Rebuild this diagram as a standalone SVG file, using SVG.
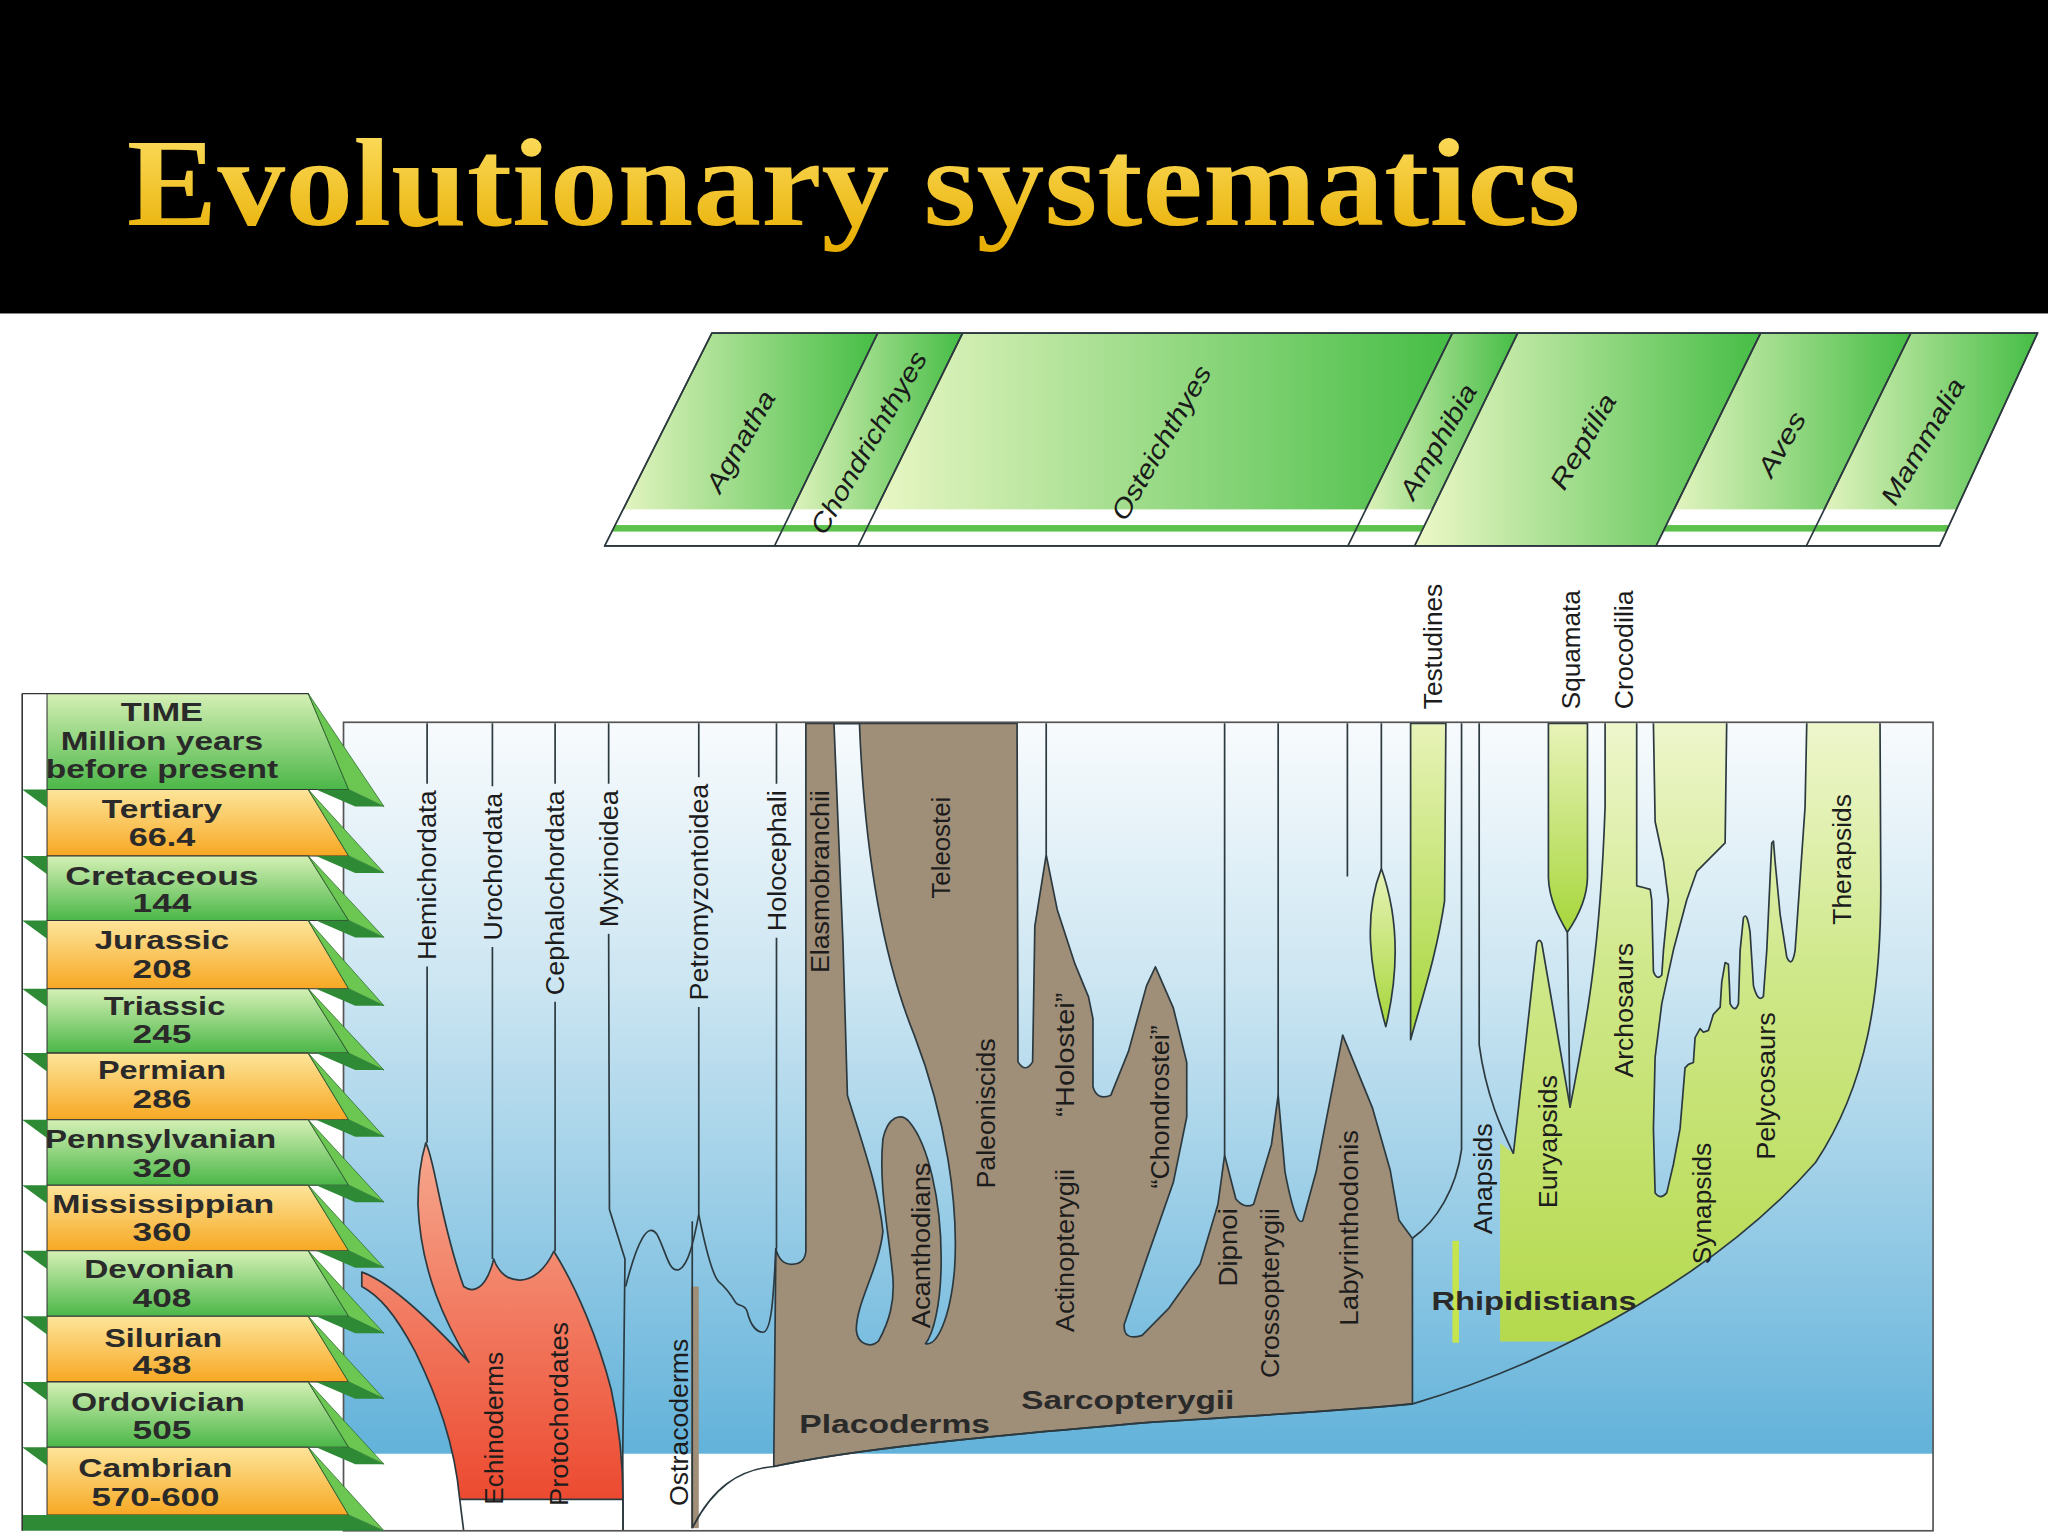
<svg xmlns="http://www.w3.org/2000/svg" width="2048" height="1536" viewBox="0 0 2048 1536">
<style>
.ln{fill:none;stroke:#2c3a40;stroke-width:1.3;stroke-linejoin:round}
.ed{stroke:#2c3a40;stroke-width:1.3;stroke-linejoin:round}
.lb{font-family:"Liberation Sans Narrow","Liberation Sans",Arial,sans-serif;font-size:20px;fill:#1c1c1c}
.hz{font-family:"Liberation Sans",Arial,sans-serif;font-size:20px;font-weight:bold;fill:#2a2a2a}
.tb{font-family:"Liberation Sans",Arial,sans-serif;font-size:20px;font-weight:bold;fill:#2a2a2a;text-anchor:middle}
.pl{font-family:"Liberation Sans",Arial,sans-serif;font-size:20px;font-style:italic;fill:#1a1a1a;text-anchor:middle;dominant-baseline:central}
.fo{fill:url(#gOr);stroke:#333;stroke-width:0.8}
.fg{fill:url(#gGr);stroke:#333;stroke-width:0.8}
.sd{fill:#6cc752;stroke:#2d6e2d;stroke-width:0.6}
.dk{fill:#2f8a36}
.pn{fill:url(#gPan);stroke:#333;stroke-width:1.1}
</style>
<defs>
<linearGradient id="gBlue" gradientUnits="userSpaceOnUse" x1="0" y1="553" x2="0" y2="1113"><stop offset="0" stop-color="#f8fbfd"/><stop offset="0.35" stop-color="#cde6f2"/><stop offset="1" stop-color="#62b2da"/></linearGradient>
<linearGradient id="gRed" gradientUnits="userSpaceOnUse" x1="0" y1="875" x2="0" y2="1148"><stop offset="0" stop-color="#f6a88e"/><stop offset="1" stop-color="#ec4a30"/></linearGradient>
<linearGradient id="gLime" gradientUnits="userSpaceOnUse" x1="0" y1="553" x2="0" y2="1030"><stop offset="0" stop-color="#eef6cc"/><stop offset="0.4" stop-color="#cfe88a"/><stop offset="1" stop-color="#b4d94c"/></linearGradient>
<linearGradient id="gLime2" x1="0" y1="0" x2="0" y2="1"><stop offset="0" stop-color="#e8f3b8"/><stop offset="1" stop-color="#a6d63a"/></linearGradient>
<linearGradient id="gOr" x1="0" y1="0" x2="0" y2="1"><stop offset="0" stop-color="#fde59a"/><stop offset="1" stop-color="#f7a823"/></linearGradient>
<linearGradient id="gGr" x1="0" y1="0" x2="0" y2="1"><stop offset="0" stop-color="#d5f0b5"/><stop offset="1" stop-color="#4bb748"/></linearGradient>
<linearGradient id="gPan" x1="0" y1="0" x2="1" y2="0"><stop offset="0" stop-color="#eef8c8"/><stop offset="1" stop-color="#45bd45"/></linearGradient>
<linearGradient id="gGold" x1="0" y1="0" x2="0" y2="1"><stop offset="0" stop-color="#ffe36a"/><stop offset="1" stop-color="#e7ad00"/></linearGradient>
<clipPath id="cStrip"><polygon points="545,255 1162,255 1083,418 463,418"/><polygon points="1348,255 1560,255 1485,418 1268,418"/></clipPath>
<clipPath id="cGreen"><rect x="1080" y="540" width="420" height="487"/></clipPath>
<clipPath id="cGreenS"><rect x="1150" y="540" width="350" height="478"/></clipPath>
</defs>
<rect width="2048" height="1536" fill="#ffffff"/>
<g transform="scale(1.30612)">
<g id="title">
<rect x="0" y="0" width="1568" height="240" fill="#000"/>
<text x="97" y="172" font-family="Liberation Serif,serif" font-weight="bold" font-size="96" fill="url(#gGold)" textLength="1113" lengthAdjust="spacingAndGlyphs">Evolutionary systematics</text>
</g>
<g id="classes">
<polygon class="pn" points="545,255 672,255 593,418 463,418"/>
<polygon class="pn" points="672,255 737,255 657,418 593,418"/>
<polygon class="pn" points="737,255 1112,255 1032,418 657,418"/>
<polygon class="pn" points="1112,255 1162,255 1083,418 1032,418"/>
<polygon class="pn" points="1162,255 1348,255 1268,418 1083,418"/>
<polygon class="pn" points="1348,255 1463,255 1383,418 1268,418"/>
<polygon class="pn" points="1463,255 1560,255 1485,418 1383,418"/>
<g clip-path="url(#cStrip)">
<rect x="450" y="390" width="1120" height="28" fill="#fff"/>
<rect x="450" y="402" width="1120" height="5" fill="#5cc24c"/>
</g>
<path class="ln" d="M545,255 L1560,255 L1485,418 L463,418 Z M672,255 L593,418 M737,255 L657,418 M1112,255 L1032,418 M1162,255 L1083,418 M1348,255 L1268,418 M1463,255 L1383,418"/>
<text class="pl" transform="translate(567,338) rotate(-60)" textLength="86" lengthAdjust="spacingAndGlyphs">Agnatha</text>
<text class="pl" transform="translate(665,339) rotate(-60)" textLength="158" lengthAdjust="spacingAndGlyphs">Chondrichthyes</text>
<text class="pl" transform="translate(889,339) rotate(-60)" textLength="133" lengthAdjust="spacingAndGlyphs">Osteichthyes</text>
<text class="pl" transform="translate(1101,338) rotate(-60)" textLength="98" lengthAdjust="spacingAndGlyphs">Amphibia</text>
<text class="pl" transform="translate(1212,338) rotate(-60)" textLength="81" lengthAdjust="spacingAndGlyphs">Reptilia</text>
<text class="pl" transform="translate(1364,340) rotate(-60)" textLength="54" lengthAdjust="spacingAndGlyphs">Aves</text>
<text class="pl" transform="translate(1472,338) rotate(-60)" textLength="108" lengthAdjust="spacingAndGlyphs">Mammalia</text>
</g>
<g id="chart">
<rect x="263" y="553" width="1217" height="619" fill="#fff"/>
<rect x="263" y="553" width="1217" height="560" fill="url(#gBlue)"/>
<g id="echinoderms">
<path class="ed" fill="url(#gRed)" d="M277,974 C297,981 325,1006 359,1043 C342,1014 322,975 320,922 C320,900 323,885 326,875 C333,888 337,935 355,985 C362,990 372,988 378,964 C385,985 410,988 424,958 C441,985 458,1025 468,1064 C475,1096 477,1125 477,1148 L352,1148 C348,1105 335,1070 318,1035 C302,1005 290,992 277,985 Z"/>
<path class="ln" d="M352,1148 L355,1172 M477,1148 L477,1172"/>
</g>
<g id="fishes">
<path class="ed" fill="#9f8e78" d="M592.4,1122.8 L594,956 Q597,968 606,968 Q616,968 617,958 L617,553.8 L778.7,553.8 L779.4,813 Q785,822 790.6,813 L792.3,709 L801,654.5 L809.4,696.3 L823,738 L833.4,763.2 L836.8,780 L836.8,832 Q840,843 850.5,838.5 L864,805 L877.8,754.8 L884.6,740.2 L898.3,771.6 L908.6,813.4 L908.6,855.2 L898.3,905.4 L877.8,964 L860.7,1014 Q860,1027 874.4,1022.4 L895,1001.5 L918.8,968 L932.5,922 L937.6,884.4 L946.2,918 Q953,926 959.8,922 L973.5,876 L978.6,838.5 L983.8,897 Q992,940 997.4,934.6 L1007.7,897 L1028,792.5 L1050.7,848 L1064.4,896 L1071,934 L1081.4,948.3 L1081.4,1074.6 C1030,1080 960,1084 880,1089 C750,1100 650,1110 592.4,1122.8 Z"/>
<path class="ed" fill="url(#gBlue)" d="M638.5,554 L645.4,721.4 L648.8,838.5 C659,872 672.7,909.5 676,943 C672.7,972 655.6,997 655.6,1018.2 C656.3,1028.7 665.9,1032.9 672.7,1026.6 C679.6,1014 686.4,997 683,972 C679.6,938.8 672.7,905.4 676,872 C679.6,855.2 689.8,851 696.6,859.4 C710.3,876 720.6,918 720.6,964 C720.6,1001.5 713.7,1022.4 708.6,1028.7 C717.2,1030.8 727.4,1010 730.8,972 C734.2,922 724,855 700,792.5 C679.6,742.3 662.5,667 658,554 Z"/>
<rect x="529" y="985" width="6" height="185" fill="#9f8e78"/>
</g>
<g id="reptiles">
<path fill="url(#gLime)" clip-path="url(#cGreen)" d="M1148.5,1075 L1148.5,875 L1158.7,883.2 L1176.6,722 Q1178.5,718 1180.4,722 L1202.1,847.7 C1214.9,782 1225.1,727.4 1228.9,618 L1228.9,553.8 L1253.1,553.8 L1253.1,678.2 L1258.3,679.5 L1263.4,680.9 L1264.6,689.1 L1265.9,743.8 Q1268.5,751 1272.3,746.5 L1273.6,727.4 L1277.4,689.1 L1273.6,659 L1267.2,629 L1265.9,553.8 L1322,553.8 L1320.8,645.4 L1299.1,667.2 L1291.4,689.1 L1281.2,727.4 L1272.3,768.4 L1267.2,809.4 L1265.9,864.1 L1267.2,913.3 Q1271,919 1276.1,913.3 L1281.2,891.4 L1286.3,864.1 L1290.1,817.6 L1292.7,814.9 L1296.5,813.5 L1297.8,794.4 L1301.6,787.5 L1304.2,790.3 L1308,788.9 L1309.3,784.8 L1311.8,776.6 L1317,771.1 L1318.2,752 L1320.8,737 L1323.3,738.3 L1324.1,754.7 L1324.6,768.4 Q1328.4,776 1331,768.4 L1332.3,727.4 L1334.8,702.8 Q1337.4,697 1339.9,713.7 L1342.5,754.7 Q1346,768 1350.1,762.9 L1352.7,727.4 L1355.2,672.7 L1356.5,645.4 L1357.8,644 L1359,659 L1362.9,700 L1368,732.8 Q1372,742 1374.4,727.4 L1378.2,672.7 L1382,618 L1383.3,553.8 L1439.4,553.8 L1440,680 C1440,760 1430,830 1390,890 C1320,970 1200,1040 1081,1075 Z"/>
<path class="ln" clip-path="url(#cGreenS)" d="M1158.7,883.2 L1176.6,722 Q1178.5,718 1180.4,722 L1202.1,847.7 C1214.9,782 1225.1,727.4 1228.9,618 L1228.9,553.8 M1253.1,553.8 L1253.1,678.2 L1258.3,679.5 L1263.4,680.9 L1264.6,689.1 L1265.9,743.8 Q1268.5,751 1272.3,746.5 L1273.6,727.4 L1277.4,689.1 L1273.6,659 L1267.2,629 L1265.9,553.8 M1322,553.8 L1320.8,645.4 L1299.1,667.2 L1291.4,689.1 L1281.2,727.4 L1272.3,768.4 L1267.2,809.4 L1265.9,864.1 L1267.2,913.3 Q1271,919 1276.1,913.3 L1281.2,891.4 L1286.3,864.1 L1290.1,817.6 L1292.7,814.9 L1296.5,813.5 L1297.8,794.4 L1301.6,787.5 L1304.2,790.3 L1308,788.9 L1309.3,784.8 L1311.8,776.6 L1317,771.1 L1318.2,752 L1320.8,737 L1323.3,738.3 L1324.1,754.7 L1324.6,768.4 Q1328.4,776 1331,768.4 L1332.3,727.4 L1334.8,702.8 Q1337.4,697 1339.9,713.7 L1342.5,754.7 Q1346,768 1350.1,762.9 L1352.7,727.4 L1355.2,672.7 L1356.5,645.4 L1357.8,644 L1359,659 L1362.9,700 L1368,732.8 Q1372,742 1374.4,727.4 L1378.2,672.7 L1382,618 L1383.3,553.8"/>
<path class="ed" fill="url(#gLime2)" d="M1185.5,553.8 L1185.5,672 C1186,690 1195,705 1200,713.7 C1206,705 1215,690 1215.4,672 L1215.4,553.8 Z"/>
<path class="ed" fill="url(#gLime2)" d="M1080,553.8 L1107,553.8 L1106,690 C1100,730 1090,760 1080,796 Z"/>
<path class="ed" fill="url(#gLime2)" d="M1057.6,665 C1044,700 1048,740 1061,786 C1072,740 1070,700 1057.6,665 Z"/>
<rect x="1112" y="950" width="5" height="78" fill="#c6e44e"/>
</g>
<g id="connectors">
<path class="ln" d="M327,553.8 L327,600 M327,740 L327,875"/>
<path class="ln" d="M377,553.8 L377,602 M377,725 L377,964"/>
<path class="ln" d="M425,553.8 L425,600 M425,767 L425,958"/>
<path class="ln" d="M466,553.8 L466,600 M466,715 L466.6,926 L478.5,964 L476.8,1114 L477,1172"/>
<path class="ln" d="M479,985 C488,950 496,935 503,945 C510,958 512,975 520,972 C528,968 532,945 535,930"/>
<path class="ln" d="M535,553.8 L535,595 M535,771 L535,930 C540,955 545,975 550,981 C556,986 559,990 563,997 C566,1001 570,998 572,1004 C575,1016 580,1020 584,1020 C590,1020 592,1000 594,956"/>
<path class="ln" d="M530,935 L530,1170"/>
<path class="ln" d="M594.5,553.8 L594.5,600 M594.5,718 L594.5,956"/>
<path class="ln" d="M801,553.8 L801,654.5 M937.6,553.8 L937.6,884.4 M978.6,553.8 L978.6,838.5 M1031.6,553.8 L1031.6,671 M1057.6,553.8 L1057.6,665"/>
<path class="ln" d="M1119,553.8 L1119,880 C1115,910 1100,935 1081.4,948"/>
<path class="ln" d="M1132.5,553.8 L1132.5,800 C1138,840 1150,865 1158.7,883.2"/>
<path class="ln" d="M1200,713.7 L1202,848"/>
<path class="ln" d="M530,1170 C545,1140 565,1125 592.4,1122.8 C650,1110 750,1100 880,1089 C960,1084 1030,1080 1081,1075 C1200,1040 1320,970 1390,890 C1430,830 1440,760 1440,680 L1439.4,553.8"/>
</g>
<g id="labels">
<text class="lb" text-anchor="middle" transform="translate(334,670) rotate(-90)" textLength="130" lengthAdjust="spacingAndGlyphs">Hemichordata</text>
<text class="lb" text-anchor="middle" transform="translate(384,663.5) rotate(-90)" textLength="113" lengthAdjust="spacingAndGlyphs">Urochordata</text>
<text class="lb" text-anchor="middle" transform="translate(432,683.5) rotate(-90)" textLength="157" lengthAdjust="spacingAndGlyphs">Cephalochordata</text>
<text class="lb" text-anchor="middle" transform="translate(473,657.5) rotate(-90)" textLength="105" lengthAdjust="spacingAndGlyphs">Myxinoidea</text>
<text class="lb" text-anchor="middle" transform="translate(542,683) rotate(-90)" textLength="166" lengthAdjust="spacingAndGlyphs">Petromyzontoidea</text>
<text class="lb" text-anchor="middle" transform="translate(602,659) rotate(-90)" textLength="108" lengthAdjust="spacingAndGlyphs">Holocephali</text>
<text class="lb" text-anchor="middle" transform="translate(635,675) rotate(-90)" textLength="140" lengthAdjust="spacingAndGlyphs">Elasmobranchii</text>
<text class="lb" text-anchor="middle" transform="translate(727,649) rotate(-90)" textLength="78" lengthAdjust="spacingAndGlyphs">Teleostei</text>
<text class="lb" text-anchor="middle" transform="translate(762,852.5) rotate(-90)" textLength="115" lengthAdjust="spacingAndGlyphs">Paleoniscids</text>
<text class="lb" text-anchor="middle" transform="translate(822,807.5) rotate(-90)" textLength="95" lengthAdjust="spacingAndGlyphs">“Holostei”</text>
<text class="lb" text-anchor="middle" transform="translate(822,957.5) rotate(-90)" textLength="125" lengthAdjust="spacingAndGlyphs">Actinopterygii</text>
<text class="lb" text-anchor="middle" transform="translate(895,847.5) rotate(-90)" textLength="125" lengthAdjust="spacingAndGlyphs">“Chondrostei”</text>
<text class="lb" text-anchor="middle" transform="translate(712,953.5) rotate(-90)" textLength="127" lengthAdjust="spacingAndGlyphs">Acanthodians</text>
<text class="lb" text-anchor="middle" transform="translate(947,955) rotate(-90)" textLength="60" lengthAdjust="spacingAndGlyphs">Dipnoi</text>
<text class="lb" text-anchor="middle" transform="translate(979,990) rotate(-90)" textLength="130" lengthAdjust="spacingAndGlyphs">Crossopterygii</text>
<text class="lb" text-anchor="middle" transform="translate(1040,940) rotate(-90)" textLength="150" lengthAdjust="spacingAndGlyphs">Labyrinthodonis</text>
<text class="lb" text-anchor="middle" transform="translate(385,1093.5) rotate(-90)" textLength="117" lengthAdjust="spacingAndGlyphs">Echinoderms</text>
<text class="lb" text-anchor="middle" transform="translate(435,1082.5) rotate(-90)" textLength="141" lengthAdjust="spacingAndGlyphs">Protochordates</text>
<text class="lb" text-anchor="middle" transform="translate(527,1089) rotate(-90)" textLength="128" lengthAdjust="spacingAndGlyphs">Ostracoderms</text>
<text class="lb" text-anchor="middle" transform="translate(1104,495) rotate(-90)" textLength="96" lengthAdjust="spacingAndGlyphs">Testudines</text>
<text class="lb" text-anchor="middle" transform="translate(1210,497.5) rotate(-90)" textLength="91" lengthAdjust="spacingAndGlyphs">Squamata</text>
<text class="lb" text-anchor="middle" transform="translate(1250,497.5) rotate(-90)" textLength="91" lengthAdjust="spacingAndGlyphs">Crocodilia</text>
<text class="lb" text-anchor="middle" transform="translate(1142,902.5) rotate(-90)" textLength="85" lengthAdjust="spacingAndGlyphs">Anapsids</text>
<text class="lb" text-anchor="middle" transform="translate(1192,874) rotate(-90)" textLength="102" lengthAdjust="spacingAndGlyphs">Euryapsids</text>
<text class="lb" text-anchor="middle" transform="translate(1250,773.5) rotate(-90)" textLength="103" lengthAdjust="spacingAndGlyphs">Archosaurs</text>
<text class="lb" text-anchor="middle" transform="translate(1310,921.5) rotate(-90)" textLength="93" lengthAdjust="spacingAndGlyphs">Synapsids</text>
<text class="lb" text-anchor="middle" transform="translate(1359,831.5) rotate(-90)" textLength="113" lengthAdjust="spacingAndGlyphs">Pelycosaurs</text>
<text class="lb" text-anchor="middle" transform="translate(1417,658) rotate(-90)" textLength="100" lengthAdjust="spacingAndGlyphs">Therapsids</text>
<text class="hz" x="612" y="1097" textLength="146" lengthAdjust="spacingAndGlyphs">Placoderms</text>
<text class="hz" x="782" y="1079" textLength="163" lengthAdjust="spacingAndGlyphs">Sarcopterygii</text>
<text class="hz" x="1096" y="1003" textLength="157" lengthAdjust="spacingAndGlyphs">Rhipidistians</text>
</g>
<rect x="263" y="553" width="1217" height="619" fill="none" stroke="#555" stroke-width="1.3"/>
</g>
<g id="timescale">
<rect x="17" y="531" width="19" height="641" fill="#fff"/>
<g id="t-header"><polygon class="fg" points="36,531 236,531 267,604.5 36,604.5"/><polygon class="sd" points="236,531 294,617.5 267,604.5"/><polygon class="dk" points="242,604.5 267,604.5 294,617.5 272,617.5"/><text class="tb" x="124" y="552" textLength="63" lengthAdjust="spacingAndGlyphs">TIME</text><text class="tb" x="124" y="574" textLength="155" lengthAdjust="spacingAndGlyphs">Million years</text><text class="tb" x="124" y="596" textLength="178" lengthAdjust="spacingAndGlyphs">before present</text></g>
<g id="t-tertiary"><polygon class="fo" points="36,604.5 236,604.5 267,655.3 36,655.3"/><polygon class="sd" points="236,604.5 294,668.3 267,655.3"/><polygon class="dk" points="242,655.3 267,655.3 294,668.3 272,668.3"/><polygon class="dk" points="17,604.5 36,604.5 36,618.5"/><text class="tb" x="124" y="626.5" textLength="92" lengthAdjust="spacingAndGlyphs">Tertiary</text><text class="tb" x="124" y="648" textLength="51" lengthAdjust="spacingAndGlyphs">66.4</text></g>
<g id="t-cretaceous"><polygon class="fg" points="36,655.3 236,655.3 267,704.7 36,704.7"/><polygon class="sd" points="236,655.3 294,717.7 267,704.7"/><polygon class="dk" points="242,704.7 267,704.7 294,717.7 272,717.7"/><polygon class="dk" points="17,655.3 36,655.3 36,669.3"/><text class="tb" x="124" y="677.3" textLength="148" lengthAdjust="spacingAndGlyphs">Cretaceous</text><text class="tb" x="124" y="698.5" textLength="45" lengthAdjust="spacingAndGlyphs">144</text></g>
<g id="t-jurassic"><polygon class="fo" points="36,704.7 236,704.7 267,757 36,757"/><polygon class="sd" points="236,704.7 294,770 267,757"/><polygon class="dk" points="242,757 267,757 294,770 272,770"/><polygon class="dk" points="17,704.7 36,704.7 36,718.7"/><text class="tb" x="124" y="726.7" textLength="103" lengthAdjust="spacingAndGlyphs">Jurassic</text><text class="tb" x="124" y="748.5" textLength="45" lengthAdjust="spacingAndGlyphs">208</text></g>
<g id="t-triassic"><polygon class="fg" points="36,757 236,757 267,806.3 36,806.3"/><polygon class="sd" points="236,757 294,819.3 267,806.3"/><polygon class="dk" points="242,806.3 267,806.3 294,819.3 272,819.3"/><polygon class="dk" points="17,757 36,757 36,771"/><text class="tb" x="126" y="777" textLength="93" lengthAdjust="spacingAndGlyphs">Triassic</text><text class="tb" x="124" y="798.5" textLength="45" lengthAdjust="spacingAndGlyphs">245</text></g>
<g id="t-permian"><polygon class="fo" points="36,806.3 236,806.3 267,857.3 36,857.3"/><polygon class="sd" points="236,806.3 294,870.3 267,857.3"/><polygon class="dk" points="242,857.3 267,857.3 294,870.3 272,870.3"/><polygon class="dk" points="17,806.3 36,806.3 36,820.3"/><text class="tb" x="124" y="826.3" textLength="98" lengthAdjust="spacingAndGlyphs">Permian</text><text class="tb" x="124" y="848" textLength="45" lengthAdjust="spacingAndGlyphs">286</text></g>
<g id="t-pennsylvanian"><polygon class="fg" points="36,857.3 236,857.3 267,907.4 36,907.4"/><polygon class="sd" points="236,857.3 294,920.4 267,907.4"/><polygon class="dk" points="242,907.4 267,907.4 294,920.4 272,920.4"/><polygon class="dk" points="17,857.3 36,857.3 36,871.3"/><text class="tb" x="123" y="879.3" textLength="177" lengthAdjust="spacingAndGlyphs">Pennsylvanian</text><text class="tb" x="124" y="901" textLength="45" lengthAdjust="spacingAndGlyphs">320</text></g>
<g id="t-mississippian"><polygon class="fo" points="36,907.4 236,907.4 267,957.6 36,957.6"/><polygon class="sd" points="236,907.4 294,970.6 267,957.6"/><polygon class="dk" points="242,957.6 267,957.6 294,970.6 272,970.6"/><polygon class="dk" points="17,907.4 36,907.4 36,921.4"/><text class="tb" x="125" y="928.4" textLength="170" lengthAdjust="spacingAndGlyphs">Mississippian</text><text class="tb" x="124" y="950" textLength="45" lengthAdjust="spacingAndGlyphs">360</text></g>
<g id="t-devonian"><polygon class="fg" points="36,957.6 236,957.6 267,1007.8 36,1007.8"/><polygon class="sd" points="236,957.6 294,1020.8 267,1007.8"/><polygon class="dk" points="242,1007.8 267,1007.8 294,1020.8 272,1020.8"/><polygon class="dk" points="17,957.6 36,957.6 36,971.6"/><text class="tb" x="122" y="978.6" textLength="115" lengthAdjust="spacingAndGlyphs">Devonian</text><text class="tb" x="124" y="1000.5" textLength="45" lengthAdjust="spacingAndGlyphs">408</text></g>
<g id="t-silurian"><polygon class="fo" points="36,1007.8 236,1007.8 267,1058 36,1058"/><polygon class="sd" points="236,1007.8 294,1071 267,1058"/><polygon class="dk" points="242,1058 267,1058 294,1071 272,1071"/><polygon class="dk" points="17,1007.8 36,1007.8 36,1021.8"/><text class="tb" x="125" y="1031" textLength="90" lengthAdjust="spacingAndGlyphs">Silurian</text><text class="tb" x="124" y="1052" textLength="45" lengthAdjust="spacingAndGlyphs">438</text></g>
<g id="t-ordovician"><polygon class="fg" points="36,1058 236,1058 267,1108 36,1108"/><polygon class="sd" points="236,1058 294,1121 267,1108"/><polygon class="dk" points="242,1108 267,1108 294,1121 272,1121"/><polygon class="dk" points="17,1058 36,1058 36,1072"/><text class="tb" x="121" y="1080" textLength="133" lengthAdjust="spacingAndGlyphs">Ordovician</text><text class="tb" x="124" y="1102" textLength="45" lengthAdjust="spacingAndGlyphs">505</text></g>
<g id="t-cambrian"><polygon class="fo" points="36,1108 236,1108 267,1160 36,1160"/><polygon class="sd" points="236,1108 294,1172 267,1160"/><polygon class="dk" points="17,1108 36,1108 36,1122"/><text class="tb" x="119" y="1131" textLength="118" lengthAdjust="spacingAndGlyphs">Cambrian</text><text class="tb" x="119" y="1153" textLength="98" lengthAdjust="spacingAndGlyphs">570-600</text></g>
<polygon class="dk" points="17,1160 267,1160 294,1172 17,1172"/>
<line x1="17" y1="531" x2="17" y2="1172" stroke="#333" stroke-width="1.2"/>
<line x1="17" y1="531" x2="236" y2="531" stroke="#333" stroke-width="1"/>
</g>
</g>
</svg>
